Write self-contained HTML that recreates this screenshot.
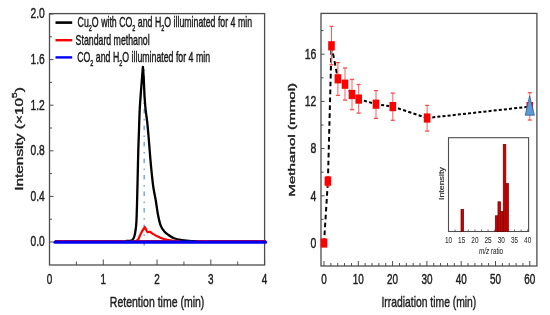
<!DOCTYPE html>
<html><head><meta charset="utf-8"><style>
html,body{margin:0;padding:0;background:#fff;}
svg{display:block;font-family:"Liberation Sans", Arial, sans-serif;}
</style></head><body>
<svg width="550" height="315" viewBox="0 0 550 315">
<rect width="550" height="315" fill="#fff"/>
<rect x="49.5" y="13.6" width="215.10" height="251.40" fill="none" stroke="#4d4d4d" stroke-width="1.3"/>
<line x1="49.5" y1="242.00" x2="53.5" y2="242.00" stroke="#4d4d4d" stroke-width="1"/>
<text transform="translate(44.80,246.40) scale(0.7,1)" font-size="14.7" text-anchor="end" font-weight="normal" fill="#222" stroke="#222" stroke-width="0.45" >0.0</text>
<line x1="49.5" y1="219.20" x2="52.0" y2="219.20" stroke="#4d4d4d" stroke-width="1"/>
<line x1="49.5" y1="196.40" x2="53.5" y2="196.40" stroke="#4d4d4d" stroke-width="1"/>
<text transform="translate(44.80,200.80) scale(0.7,1)" font-size="14.7" text-anchor="end" font-weight="normal" fill="#222" stroke="#222" stroke-width="0.45" >0.4</text>
<line x1="49.5" y1="173.60" x2="52.0" y2="173.60" stroke="#4d4d4d" stroke-width="1"/>
<line x1="49.5" y1="150.80" x2="53.5" y2="150.80" stroke="#4d4d4d" stroke-width="1"/>
<text transform="translate(44.80,155.20) scale(0.7,1)" font-size="14.7" text-anchor="end" font-weight="normal" fill="#222" stroke="#222" stroke-width="0.45" >0.8</text>
<line x1="49.5" y1="128.00" x2="52.0" y2="128.00" stroke="#4d4d4d" stroke-width="1"/>
<line x1="49.5" y1="105.20" x2="53.5" y2="105.20" stroke="#4d4d4d" stroke-width="1"/>
<text transform="translate(44.80,109.60) scale(0.7,1)" font-size="14.7" text-anchor="end" font-weight="normal" fill="#222" stroke="#222" stroke-width="0.45" >1.2</text>
<line x1="49.5" y1="82.40" x2="52.0" y2="82.40" stroke="#4d4d4d" stroke-width="1"/>
<line x1="49.5" y1="59.60" x2="53.5" y2="59.60" stroke="#4d4d4d" stroke-width="1"/>
<text transform="translate(44.80,64.00) scale(0.7,1)" font-size="14.7" text-anchor="end" font-weight="normal" fill="#222" stroke="#222" stroke-width="0.45" >1.6</text>
<line x1="49.5" y1="36.80" x2="52.0" y2="36.80" stroke="#4d4d4d" stroke-width="1"/>
<line x1="49.5" y1="14.00" x2="53.5" y2="14.00" stroke="#4d4d4d" stroke-width="1"/>
<text transform="translate(44.80,18.40) scale(0.7,1)" font-size="14.7" text-anchor="end" font-weight="normal" fill="#222" stroke="#222" stroke-width="0.45" >2.0</text>
<line x1="49.50" y1="265.0" x2="49.50" y2="259.5" stroke="#4d4d4d" stroke-width="1"/>
<text transform="translate(49.50,284.00) scale(0.7,1)" font-size="14.2" text-anchor="middle" font-weight="normal" fill="#222" stroke="#222" stroke-width="0.45" >0</text>
<line x1="76.39" y1="265.0" x2="76.39" y2="261.5" stroke="#4d4d4d" stroke-width="1"/>
<line x1="103.28" y1="265.0" x2="103.28" y2="259.5" stroke="#4d4d4d" stroke-width="1"/>
<text transform="translate(103.28,284.00) scale(0.7,1)" font-size="14.2" text-anchor="middle" font-weight="normal" fill="#222" stroke="#222" stroke-width="0.45" >1</text>
<line x1="130.16" y1="265.0" x2="130.16" y2="261.5" stroke="#4d4d4d" stroke-width="1"/>
<line x1="157.05" y1="265.0" x2="157.05" y2="259.5" stroke="#4d4d4d" stroke-width="1"/>
<text transform="translate(157.05,284.00) scale(0.7,1)" font-size="14.2" text-anchor="middle" font-weight="normal" fill="#222" stroke="#222" stroke-width="0.45" >2</text>
<line x1="183.94" y1="265.0" x2="183.94" y2="261.5" stroke="#4d4d4d" stroke-width="1"/>
<line x1="210.83" y1="265.0" x2="210.83" y2="259.5" stroke="#4d4d4d" stroke-width="1"/>
<text transform="translate(210.83,284.00) scale(0.7,1)" font-size="14.2" text-anchor="middle" font-weight="normal" fill="#222" stroke="#222" stroke-width="0.45" >3</text>
<line x1="237.71" y1="265.0" x2="237.71" y2="261.5" stroke="#4d4d4d" stroke-width="1"/>
<line x1="264.60" y1="265.0" x2="264.60" y2="259.5" stroke="#4d4d4d" stroke-width="1"/>
<text transform="translate(264.60,284.00) scale(0.7,1)" font-size="14.2" text-anchor="middle" font-weight="normal" fill="#222" stroke="#222" stroke-width="0.45" >4</text>
<text transform="translate(157.10,307.30) scale(0.682,1)" font-size="15.4" text-anchor="middle" font-weight="normal" fill="#222" stroke="#222" stroke-width="0.45" >Retention time (min)</text>
<text transform="translate(22.80,139.00) rotate(-90) scale(1,0.68)" font-size="15.4" text-anchor="middle" font-weight="normal" fill="#222" stroke="#222" stroke-width="0.55">Intensity (×10<tspan font-size="10.2" dy="-8">5</tspan><tspan dy="8">)</tspan></text>
<line x1="55.5" y1="22.6" x2="72.2" y2="22.6" stroke="#000" stroke-width="2.6"/>
<line x1="55.5" y1="40.2" x2="72.2" y2="40.2" stroke="#f00" stroke-width="2.4"/>
<line x1="55.5" y1="57.4" x2="72.2" y2="57.4" stroke="#00f" stroke-width="2.4"/>
<text transform="translate(77.60,26.90) scale(0.627,1)" font-size="14.0" text-anchor="start" font-weight="normal" fill="#1a1a1a" stroke="#1a1a1a" stroke-width="0.45" >Cu<tspan font-size="8.8" dy="4.2">2</tspan><tspan dy="-4.2">O with CO</tspan><tspan font-size="8.8" dy="4.2">2</tspan><tspan dy="-4.2"> and H</tspan><tspan font-size="8.8" dy="4.2">2</tspan><tspan dy="-4.2">O illuminated for 4 min</tspan></text>
<text transform="translate(75.60,44.70) scale(0.627,1)" font-size="14.0" text-anchor="start" font-weight="normal" fill="#1a1a1a" stroke="#1a1a1a" stroke-width="0.45" >Standard methanol</text>
<text transform="translate(77.20,61.50) scale(0.627,1)" font-size="14.0" text-anchor="start" font-weight="normal" fill="#1a1a1a" stroke="#1a1a1a" stroke-width="0.45" >CO<tspan font-size="8.8" dy="4.2">2</tspan><tspan dy="-4.2"> and H</tspan><tspan font-size="8.8" dy="4.2">2</tspan><tspan dy="-4.2">O illuminated for 4 min</tspan></text>
<line x1="144.2" y1="68" x2="144.2" y2="248.5" stroke="#78aade" stroke-width="1.5" stroke-dasharray="4.5 5.5 1.5 5" stroke-dashoffset="8.5"/>
<line x1="55" y1="241.2" x2="265.5" y2="241.2" stroke="#000" stroke-width="2"/>
<line x1="55" y1="241.0" x2="265.5" y2="241.0" stroke="#f00" stroke-width="2"/>
<path fill="none" stroke="#000" stroke-width="2.3" stroke-linejoin="round" d="M126.00,241.00 C126.67,240.97 128.93,240.97 130.00,240.80 C131.07,240.63 131.68,240.72 132.40,240.00 C133.12,239.28 133.77,238.17 134.30,236.50 C134.83,234.83 135.25,232.42 135.60,230.00 C135.95,227.58 136.17,226.17 136.40,222.00 C136.63,217.83 136.80,212.00 137.00,205.00 C137.20,198.00 137.38,189.17 137.60,180.00 C137.82,170.83 138.07,158.33 138.30,150.00 C138.53,141.67 138.77,136.67 139.00,130.00 C139.23,123.33 139.38,116.33 139.70,110.00 C140.02,103.67 140.52,97.33 140.90,92.00 C141.28,86.67 141.67,82.20 142.00,78.00 C142.33,73.80 142.75,68.67 142.90,66.80 L142.90,66.80 C143.03,68.67 143.42,72.97 143.70,78.00 C143.98,83.03 144.28,91.73 144.60,97.00 C144.92,102.27 145.17,105.43 145.60,109.60 C146.03,113.77 146.70,117.43 147.20,122.00 C147.70,126.57 148.10,131.17 148.60,137.00 C149.10,142.83 149.70,151.17 150.20,157.00 C150.70,162.83 151.08,167.00 151.60,172.00 C152.12,177.00 152.62,182.33 153.30,187.00 C153.98,191.67 154.93,195.45 155.70,200.00 C156.47,204.55 157.07,210.02 157.90,214.30 C158.73,218.58 159.63,222.85 160.70,225.70 C161.77,228.55 162.98,229.85 164.30,231.40 C165.62,232.95 166.98,233.87 168.60,235.00 C170.22,236.13 171.77,237.33 174.00,238.20 C176.23,239.07 179.50,239.75 182.00,240.20 C184.50,240.65 186.67,240.67 189.00,240.90 C191.33,241.13 194.83,241.48 196.00,241.60"/>
<polyline fill="none" stroke="#f00" stroke-width="2.2" stroke-linejoin="round" points="130,241.3 136.4,241 138.5,239 140.2,235 142.5,230.5 144.9,227.2 146.5,230.5 147.6,232.3 149.8,231.7 152.5,233.6 156.7,236.1 160,237.6 163.1,238.7 167,239.8 172,240.7 180,241"/>
<line x1="55" y1="242.2" x2="265.5" y2="242.2" stroke="#0000ee" stroke-width="3.2" stroke-linecap="round"/>
<rect x="321.0" y="13.4" width="215.90" height="252.60" fill="none" stroke="#4d4d4d" stroke-width="1.3"/>
<line x1="321.0" y1="243.00" x2="324.6" y2="243.00" stroke="#4d4d4d" stroke-width="1"/>
<text transform="translate(316.30,247.80) scale(0.7,1)" font-size="15.0" text-anchor="end" font-weight="normal" fill="#222" stroke="#222" stroke-width="0.45" >0</text>
<line x1="321.0" y1="219.40" x2="323.5" y2="219.40" stroke="#4d4d4d" stroke-width="1"/>
<line x1="321.0" y1="195.80" x2="324.6" y2="195.80" stroke="#4d4d4d" stroke-width="1"/>
<text transform="translate(316.30,200.60) scale(0.7,1)" font-size="15.0" text-anchor="end" font-weight="normal" fill="#222" stroke="#222" stroke-width="0.45" >4</text>
<line x1="321.0" y1="172.20" x2="323.5" y2="172.20" stroke="#4d4d4d" stroke-width="1"/>
<line x1="321.0" y1="148.60" x2="324.6" y2="148.60" stroke="#4d4d4d" stroke-width="1"/>
<text transform="translate(316.30,153.40) scale(0.7,1)" font-size="15.0" text-anchor="end" font-weight="normal" fill="#222" stroke="#222" stroke-width="0.45" >8</text>
<line x1="321.0" y1="125.00" x2="323.5" y2="125.00" stroke="#4d4d4d" stroke-width="1"/>
<line x1="321.0" y1="101.40" x2="324.6" y2="101.40" stroke="#4d4d4d" stroke-width="1"/>
<text transform="translate(316.30,106.20) scale(0.7,1)" font-size="15.0" text-anchor="end" font-weight="normal" fill="#222" stroke="#222" stroke-width="0.45" >12</text>
<line x1="321.0" y1="77.80" x2="323.5" y2="77.80" stroke="#4d4d4d" stroke-width="1"/>
<line x1="321.0" y1="54.20" x2="324.6" y2="54.20" stroke="#4d4d4d" stroke-width="1"/>
<text transform="translate(316.30,59.00) scale(0.7,1)" font-size="15.0" text-anchor="end" font-weight="normal" fill="#222" stroke="#222" stroke-width="0.45" >16</text>
<line x1="321.0" y1="30.60" x2="323.5" y2="30.60" stroke="#4d4d4d" stroke-width="1"/>
<line x1="324.00" y1="266.0" x2="324.00" y2="261.0" stroke="#4d4d4d" stroke-width="1"/>
<text transform="translate(324.00,284.20) scale(0.7,1)" font-size="14.2" text-anchor="middle" font-weight="normal" fill="#222" stroke="#222" stroke-width="0.45" >0</text>
<line x1="330.86" y1="266.0" x2="330.86" y2="263.0" stroke="#4d4d4d" stroke-width="1"/>
<line x1="337.72" y1="266.0" x2="337.72" y2="263.0" stroke="#4d4d4d" stroke-width="1"/>
<line x1="344.58" y1="266.0" x2="344.58" y2="263.0" stroke="#4d4d4d" stroke-width="1"/>
<line x1="351.44" y1="266.0" x2="351.44" y2="263.0" stroke="#4d4d4d" stroke-width="1"/>
<line x1="358.30" y1="266.0" x2="358.30" y2="261.0" stroke="#4d4d4d" stroke-width="1"/>
<text transform="translate(358.30,284.20) scale(0.7,1)" font-size="14.2" text-anchor="middle" font-weight="normal" fill="#222" stroke="#222" stroke-width="0.45" >10</text>
<line x1="365.16" y1="266.0" x2="365.16" y2="263.0" stroke="#4d4d4d" stroke-width="1"/>
<line x1="372.02" y1="266.0" x2="372.02" y2="263.0" stroke="#4d4d4d" stroke-width="1"/>
<line x1="378.88" y1="266.0" x2="378.88" y2="263.0" stroke="#4d4d4d" stroke-width="1"/>
<line x1="385.74" y1="266.0" x2="385.74" y2="263.0" stroke="#4d4d4d" stroke-width="1"/>
<line x1="392.60" y1="266.0" x2="392.60" y2="261.0" stroke="#4d4d4d" stroke-width="1"/>
<text transform="translate(392.60,284.20) scale(0.7,1)" font-size="14.2" text-anchor="middle" font-weight="normal" fill="#222" stroke="#222" stroke-width="0.45" >20</text>
<line x1="399.46" y1="266.0" x2="399.46" y2="263.0" stroke="#4d4d4d" stroke-width="1"/>
<line x1="406.32" y1="266.0" x2="406.32" y2="263.0" stroke="#4d4d4d" stroke-width="1"/>
<line x1="413.18" y1="266.0" x2="413.18" y2="263.0" stroke="#4d4d4d" stroke-width="1"/>
<line x1="420.04" y1="266.0" x2="420.04" y2="263.0" stroke="#4d4d4d" stroke-width="1"/>
<line x1="426.90" y1="266.0" x2="426.90" y2="261.0" stroke="#4d4d4d" stroke-width="1"/>
<text transform="translate(426.90,284.20) scale(0.7,1)" font-size="14.2" text-anchor="middle" font-weight="normal" fill="#222" stroke="#222" stroke-width="0.45" >30</text>
<line x1="433.76" y1="266.0" x2="433.76" y2="263.0" stroke="#4d4d4d" stroke-width="1"/>
<line x1="440.62" y1="266.0" x2="440.62" y2="263.0" stroke="#4d4d4d" stroke-width="1"/>
<line x1="447.48" y1="266.0" x2="447.48" y2="263.0" stroke="#4d4d4d" stroke-width="1"/>
<line x1="454.34" y1="266.0" x2="454.34" y2="263.0" stroke="#4d4d4d" stroke-width="1"/>
<line x1="461.20" y1="266.0" x2="461.20" y2="261.0" stroke="#4d4d4d" stroke-width="1"/>
<text transform="translate(461.20,284.20) scale(0.7,1)" font-size="14.2" text-anchor="middle" font-weight="normal" fill="#222" stroke="#222" stroke-width="0.45" >40</text>
<line x1="468.06" y1="266.0" x2="468.06" y2="263.0" stroke="#4d4d4d" stroke-width="1"/>
<line x1="474.92" y1="266.0" x2="474.92" y2="263.0" stroke="#4d4d4d" stroke-width="1"/>
<line x1="481.78" y1="266.0" x2="481.78" y2="263.0" stroke="#4d4d4d" stroke-width="1"/>
<line x1="488.64" y1="266.0" x2="488.64" y2="263.0" stroke="#4d4d4d" stroke-width="1"/>
<line x1="495.50" y1="266.0" x2="495.50" y2="261.0" stroke="#4d4d4d" stroke-width="1"/>
<text transform="translate(495.50,284.20) scale(0.7,1)" font-size="14.2" text-anchor="middle" font-weight="normal" fill="#222" stroke="#222" stroke-width="0.45" >50</text>
<line x1="502.36" y1="266.0" x2="502.36" y2="263.0" stroke="#4d4d4d" stroke-width="1"/>
<line x1="509.22" y1="266.0" x2="509.22" y2="263.0" stroke="#4d4d4d" stroke-width="1"/>
<line x1="516.08" y1="266.0" x2="516.08" y2="263.0" stroke="#4d4d4d" stroke-width="1"/>
<line x1="522.94" y1="266.0" x2="522.94" y2="263.0" stroke="#4d4d4d" stroke-width="1"/>
<line x1="529.80" y1="266.0" x2="529.80" y2="261.0" stroke="#4d4d4d" stroke-width="1"/>
<text transform="translate(529.80,284.20) scale(0.7,1)" font-size="14.2" text-anchor="middle" font-weight="normal" fill="#222" stroke="#222" stroke-width="0.45" >60</text>
<text transform="translate(428.90,307.30) scale(0.672,1)" font-size="15.4" text-anchor="middle" font-weight="normal" fill="#222" stroke="#222" stroke-width="0.45" >Irradiation time (min)</text>
<text transform="translate(295.30,139.80) rotate(-90) scale(1,0.64)" font-size="15.2" text-anchor="middle" font-weight="normal" fill="#222" stroke="#222" stroke-width="0.55">Methanol (mmol)</text>
<rect x="448.5" y="137.7" width="80.10" height="93.80" fill="none" stroke="#4d4d4d" stroke-width="1.1"/>
<line x1="448.50" y1="231.5" x2="448.50" y2="229.5" stroke="#4d4d4d" stroke-width="0.8"/>
<text transform="translate(448.50,243.10) scale(0.7,1)" font-size="9.2" text-anchor="middle" font-weight="normal" fill="#333" stroke="#333" stroke-width="0.1" >10</text>
<line x1="455.10" y1="231.5" x2="455.10" y2="229.5" stroke="#4d4d4d" stroke-width="0.8"/>
<line x1="461.70" y1="231.5" x2="461.70" y2="229.5" stroke="#4d4d4d" stroke-width="0.8"/>
<text transform="translate(461.70,243.10) scale(0.7,1)" font-size="9.2" text-anchor="middle" font-weight="normal" fill="#333" stroke="#333" stroke-width="0.1" >15</text>
<line x1="468.30" y1="231.5" x2="468.30" y2="229.5" stroke="#4d4d4d" stroke-width="0.8"/>
<line x1="474.90" y1="231.5" x2="474.90" y2="229.5" stroke="#4d4d4d" stroke-width="0.8"/>
<text transform="translate(474.90,243.10) scale(0.7,1)" font-size="9.2" text-anchor="middle" font-weight="normal" fill="#333" stroke="#333" stroke-width="0.1" >20</text>
<line x1="481.50" y1="231.5" x2="481.50" y2="229.5" stroke="#4d4d4d" stroke-width="0.8"/>
<line x1="488.10" y1="231.5" x2="488.10" y2="229.5" stroke="#4d4d4d" stroke-width="0.8"/>
<text transform="translate(488.10,243.10) scale(0.7,1)" font-size="9.2" text-anchor="middle" font-weight="normal" fill="#333" stroke="#333" stroke-width="0.1" >25</text>
<line x1="494.70" y1="231.5" x2="494.70" y2="229.5" stroke="#4d4d4d" stroke-width="0.8"/>
<line x1="501.30" y1="231.5" x2="501.30" y2="229.5" stroke="#4d4d4d" stroke-width="0.8"/>
<text transform="translate(501.30,243.10) scale(0.7,1)" font-size="9.2" text-anchor="middle" font-weight="normal" fill="#333" stroke="#333" stroke-width="0.1" >30</text>
<line x1="507.90" y1="231.5" x2="507.90" y2="229.5" stroke="#4d4d4d" stroke-width="0.8"/>
<line x1="514.50" y1="231.5" x2="514.50" y2="229.5" stroke="#4d4d4d" stroke-width="0.8"/>
<text transform="translate(514.50,243.10) scale(0.7,1)" font-size="9.2" text-anchor="middle" font-weight="normal" fill="#333" stroke="#333" stroke-width="0.1" >35</text>
<line x1="521.10" y1="231.5" x2="521.10" y2="229.5" stroke="#4d4d4d" stroke-width="0.8"/>
<line x1="527.70" y1="231.5" x2="527.70" y2="229.5" stroke="#4d4d4d" stroke-width="0.8"/>
<text transform="translate(527.70,243.10) scale(0.7,1)" font-size="9.2" text-anchor="middle" font-weight="normal" fill="#333" stroke="#333" stroke-width="0.1" >40</text>
<rect x="461.00" y="209.3" width="2.6" height="22.20" fill="#d00000" stroke="#6a0000" stroke-width="0.7"/>
<rect x="495.32" y="215.8" width="2.6" height="15.70" fill="#d00000" stroke="#6a0000" stroke-width="0.7"/>
<rect x="497.96" y="201.8" width="2.6" height="29.70" fill="#d00000" stroke="#6a0000" stroke-width="0.7"/>
<rect x="500.60" y="211.4" width="2.6" height="20.10" fill="#d00000" stroke="#6a0000" stroke-width="0.7"/>
<rect x="503.24" y="144.4" width="2.6" height="87.10" fill="#d00000" stroke="#6a0000" stroke-width="0.7"/>
<rect x="505.88" y="183.5" width="2.6" height="48.00" fill="#d00000" stroke="#6a0000" stroke-width="0.7"/>
<text transform="translate(491.00,253.60) scale(0.7,1)" font-size="9.0" text-anchor="middle" font-weight="normal" fill="#333" stroke="#333" stroke-width="0.1" ><tspan font-style="italic">m/z</tspan> ratio</text>
<text transform="translate(443.80,183.60) rotate(-90) scale(1,0.72)" font-size="8.8" text-anchor="middle" font-weight="normal" fill="#333" stroke="#333" stroke-width="0.25">Intensity</text>
<line x1="324" y1="243" x2="327.9" y2="181.1" stroke="#000" stroke-width="2" stroke-dasharray="4.64 3.25"/>
<line x1="327.9" y1="181.1" x2="331.5" y2="45.8" stroke="#000" stroke-width="2" stroke-dasharray="4.65 3.25"/>
<line x1="331.5" y1="45.8" x2="337.9" y2="78.8" stroke="#000" stroke-width="2" stroke-dasharray="4.60 3.22"/>
<line x1="337.9" y1="78.8" x2="345" y2="84.2" stroke="#000" stroke-width="2" stroke-dasharray="3.69 2.58"/>
<line x1="345" y1="84.2" x2="352" y2="94.5" stroke="#000" stroke-width="2" stroke-dasharray="4.20 2.94"/>
<line x1="352" y1="94.5" x2="358.7" y2="99.1" stroke="#000" stroke-width="2" stroke-dasharray="3.61 2.53"/>
<line x1="358.7" y1="99.1" x2="376" y2="104.2" stroke="#000" stroke-width="2" stroke-dasharray="3.16 2.21"/>
<line x1="376" y1="104.2" x2="392.8" y2="106.6" stroke="#000" stroke-width="2" stroke-dasharray="3.04 2.13"/>
<line x1="392.8" y1="106.6" x2="427.1" y2="118" stroke="#000" stroke-width="2" stroke-dasharray="3.20 2.24"/>
<line x1="427.1" y1="118" x2="529.8" y2="106.6" stroke="#000" stroke-width="2" stroke-dasharray="3.03 2.12"/>
<rect x="320.70" y="238.40" width="6.6" height="9.2" fill="#f00"/>
<line x1="327.9" y1="176.5" x2="327.9" y2="186" stroke="#ff5a5a" stroke-width="1"/>
<line x1="325.9" y1="176.5" x2="329.9" y2="176.5" stroke="#ff4a4a" stroke-width="1.3"/>
<line x1="325.9" y1="186" x2="329.9" y2="186" stroke="#ff4a4a" stroke-width="1.3"/>
<rect x="324.60" y="176.50" width="6.6" height="9.2" fill="#f00"/>
<line x1="331.5" y1="26.4" x2="331.5" y2="64.8" stroke="#ff5a5a" stroke-width="1"/>
<line x1="329.5" y1="26.4" x2="333.5" y2="26.4" stroke="#ff4a4a" stroke-width="1.3"/>
<line x1="329.5" y1="64.8" x2="333.5" y2="64.8" stroke="#ff4a4a" stroke-width="1.3"/>
<rect x="328.20" y="41.20" width="6.6" height="9.2" fill="#f00"/>
<line x1="337.9" y1="62.6" x2="337.9" y2="95.4" stroke="#ff5a5a" stroke-width="1"/>
<line x1="335.9" y1="62.6" x2="339.9" y2="62.6" stroke="#ff4a4a" stroke-width="1.3"/>
<line x1="335.9" y1="95.4" x2="339.9" y2="95.4" stroke="#ff4a4a" stroke-width="1.3"/>
<rect x="334.60" y="74.20" width="6.6" height="9.2" fill="#f00"/>
<line x1="345" y1="68" x2="345" y2="100.1" stroke="#ff5a5a" stroke-width="1"/>
<line x1="343" y1="68" x2="347" y2="68" stroke="#ff4a4a" stroke-width="1.3"/>
<line x1="343" y1="100.1" x2="347" y2="100.1" stroke="#ff4a4a" stroke-width="1.3"/>
<rect x="341.70" y="79.60" width="6.6" height="9.2" fill="#f00"/>
<line x1="352" y1="79.4" x2="352" y2="109.7" stroke="#ff5a5a" stroke-width="1"/>
<line x1="350" y1="79.4" x2="354" y2="79.4" stroke="#ff4a4a" stroke-width="1.3"/>
<line x1="350" y1="109.7" x2="354" y2="109.7" stroke="#ff4a4a" stroke-width="1.3"/>
<rect x="348.70" y="89.90" width="6.6" height="9.2" fill="#f00"/>
<line x1="358.7" y1="84.5" x2="358.7" y2="113.1" stroke="#ff5a5a" stroke-width="1"/>
<line x1="356.7" y1="84.5" x2="360.7" y2="84.5" stroke="#ff4a4a" stroke-width="1.3"/>
<line x1="356.7" y1="113.1" x2="360.7" y2="113.1" stroke="#ff4a4a" stroke-width="1.3"/>
<rect x="355.40" y="94.50" width="6.6" height="9.2" fill="#f00"/>
<line x1="376" y1="90.6" x2="376" y2="118.4" stroke="#ff5a5a" stroke-width="1"/>
<line x1="374" y1="90.6" x2="378" y2="90.6" stroke="#ff4a4a" stroke-width="1.3"/>
<line x1="374" y1="118.4" x2="378" y2="118.4" stroke="#ff4a4a" stroke-width="1.3"/>
<rect x="372.70" y="99.60" width="6.6" height="9.2" fill="#f00"/>
<line x1="392.8" y1="93.1" x2="392.8" y2="120.3" stroke="#ff5a5a" stroke-width="1"/>
<line x1="390.8" y1="93.1" x2="394.8" y2="93.1" stroke="#ff4a4a" stroke-width="1.3"/>
<line x1="390.8" y1="120.3" x2="394.8" y2="120.3" stroke="#ff4a4a" stroke-width="1.3"/>
<rect x="389.50" y="102.00" width="6.6" height="9.2" fill="#f00"/>
<line x1="427.1" y1="105.4" x2="427.1" y2="131.1" stroke="#ff5a5a" stroke-width="1"/>
<line x1="425.1" y1="105.4" x2="429.1" y2="105.4" stroke="#ff4a4a" stroke-width="1.3"/>
<line x1="425.1" y1="131.1" x2="429.1" y2="131.1" stroke="#ff4a4a" stroke-width="1.3"/>
<rect x="423.80" y="113.40" width="6.6" height="9.2" fill="#f00"/>
<line x1="529.8" y1="92.7" x2="529.8" y2="120" stroke="#ff5a5a" stroke-width="1"/>
<line x1="527.8" y1="92.7" x2="531.8" y2="92.7" stroke="#ff4a4a" stroke-width="1.3"/>
<line x1="527.8" y1="120" x2="531.8" y2="120" stroke="#ff4a4a" stroke-width="1.3"/>
<rect x="526.50" y="102.00" width="6.6" height="9.2" fill="#f00"/>
<polygon points="529.6,95.9 534.4,115.2 525.2,115.2" fill="#5b9bd5" stroke="#2f5f9f" stroke-width="0.8" stroke-linejoin="round"/>
</svg>
</body></html>
